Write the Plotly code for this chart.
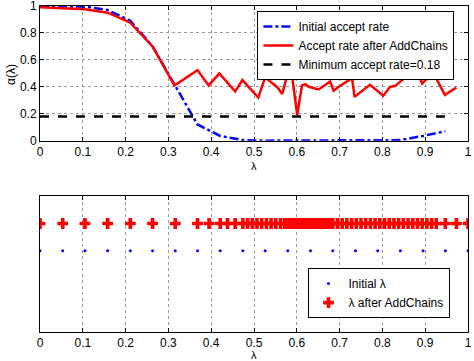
import plotly.graph_objects as go

# ---- data ----
lam_init = [0.0, 0.053, 0.105, 0.158, 0.211, 0.263, 0.316, 0.368, 0.421, 0.474,
            0.526, 0.579, 0.632, 0.684, 0.737, 0.789, 0.842, 0.895, 0.947, 1.0]
acc_init = [1.0, 1.0, 0.995, 0.97, 0.89, 0.70, 0.41, 0.12, 0.035, 0.004,
            0.0, 0.0, 0.0, 0.0, 0.0, 0.0, 0.004, 0.035, 0.07]

lam_red = [0.0, 0.053, 0.105, 0.158, 0.211, 0.263, 0.314, 0.368, 0.394, 0.419,
           0.456, 0.473, 0.488, 0.51, 0.526, 0.543, 0.555, 0.566, 0.579, 0.589,
           0.601, 0.612, 0.62, 0.628, 0.651, 0.678, 0.686, 0.698, 0.729, 0.735,
           0.771, 0.802, 0.818, 0.83, 0.857, 0.88, 0.893, 0.906, 0.923, 0.946, 0.973]
acc_red = [0.99, 0.985, 0.975, 0.95, 0.876, 0.70, 0.41, 0.524, 0.41, 0.50,
           0.365, 0.45, 0.40, 0.32, 0.47, 0.425, 0.395, 0.346, 0.506, 0.48,
           0.19, 0.41, 0.42, 0.40, 0.38, 0.44, 0.37, 0.40, 0.464, 0.326,
           0.415, 0.333, 0.40, 0.407, 0.48, 0.518, 0.424, 0.464, 0.479, 0.34, 0.395]

min_accept = 0.18

lam_after = [0.0, 0.053, 0.105, 0.158, 0.211, 0.263, 0.316, 0.368, 0.395, 0.421,
             0.438, 0.456, 0.474, 0.485, 0.496, 0.507, 0.518, 0.529, 0.540, 0.551,
             0.562, 0.572, 0.580, 0.584, 0.588, 0.591, 0.595, 0.598, 0.602, 0.605,
             0.609, 0.612, 0.616, 0.619, 0.623, 0.626, 0.630, 0.633, 0.637, 0.640,
             0.644, 0.647, 0.651, 0.654, 0.658, 0.661, 0.665, 0.668, 0.672, 0.675,
             0.679, 0.684, 0.695, 0.706, 0.717, 0.728, 0.739, 0.750, 0.761, 0.772,
             0.783, 0.794, 0.805, 0.816, 0.827, 0.838, 0.849, 0.860, 0.871, 0.882,
             0.893, 0.904, 0.915, 0.926, 0.947, 0.973, 1.0]

row_after = 2
row_init = 1

x_ticks = [0, 0.1, 0.2, 0.3, 0.4, 0.5, 0.6, 0.7, 0.8, 0.9, 1]
x_ticktext = ["0", "0.1", "0.2", "0.3", "0.4", "0.5", "0.6", "0.7", "0.8", "0.9", "1"]
y_ticks = [0, 0.2, 0.4, 0.6, 0.8, 1]
y_ticktext = ["0", "0.2", "0.4", "0.6", "0.8", "1"]

FONT = "Liberation Sans, Arial, sans-serif"

W, H = 474, 361
ML, MR, MT, MB = 40, 6, 6, 29
TOP_DOM = [0.587, 1.0]
BOT_DOM = [0.0, 0.416]

fig = go.Figure()

fig.add_trace(go.Scatter(x=lam_init[:-1], y=acc_init, mode="lines",
                         line=dict(color="#0000ff", width=2.5, dash="dashdot"),
                         name="Initial accept rate", xaxis="x", yaxis="y", legend="legend"))
fig.add_trace(go.Scatter(x=lam_red, y=acc_red, mode="lines",
                         line=dict(color="#ff0000", width=2.5),
                         name="Accept rate after AddChains", xaxis="x", yaxis="y", legend="legend"))
fig.add_trace(go.Scatter(x=[lam_init[0], lam_init[-2]], y=[min_accept, min_accept], mode="lines",
                         line=dict(color="black", width=2.5, dash="dash"),
                         name="Minimum accept rate=0.18", xaxis="x", yaxis="y", legend="legend"))

fig.add_trace(go.Scatter(x=lam_init, y=[row_init] * len(lam_init), mode="markers",
                         marker=dict(color="#0000ff", size=3, symbol="circle"),
                         name="Initial λ", xaxis="x2", yaxis="y2", legend="legend2"))
fig.add_trace(go.Scatter(x=lam_after, y=[row_after] * len(lam_after), mode="markers",
                         marker=dict(color="#ff0000", size=9, symbol="cross",
                                     line=dict(width=0)),
                         name="λ after AddChains", xaxis="x2", yaxis="y2", legend="legend2"))

axis_common = dict(showline=True, linecolor="black", linewidth=1, mirror="ticks",
                   ticks="inside", ticklen=4, tickcolor="black",
                   tickfont=dict(size=12, color="black", family=FONT),
                   zeroline=False, automargin=False, ticklabeloverflow="allow")

grid = dict(showgrid=True, gridcolor="#9a9a9a", griddash="dot", gridwidth=1)

fig.update_layout(
    width=W, height=H,
    margin=dict(l=ML, r=MR, t=MT, b=MB),
    paper_bgcolor="white", plot_bgcolor="white",
    font=dict(family=FONT, size=12, color="black"),
    xaxis=dict(domain=[0, 1], range=[0, 1], anchor="y", tickvals=x_ticks, ticktext=x_ticktext,
               **grid, **axis_common),
    yaxis=dict(domain=TOP_DOM, range=[0, 1], anchor="x", tickvals=y_ticks, ticktext=y_ticktext,
               **grid, **axis_common),
    xaxis2=dict(domain=[0, 1], range=[0, 1], anchor="y2", tickvals=x_ticks, ticktext=x_ticktext,
                **grid, **axis_common),
    yaxis2=dict(domain=BOT_DOM, range=[-2, 3], anchor="x2", showline=True, linecolor="black",
                linewidth=1, mirror=True, ticks="", showticklabels=False, showgrid=False,
                zeroline=False, automargin=False),
    legend=dict(x=0.508, y=0.985, xanchor="left", yanchor="top", bgcolor="white",
                bordercolor="black", borderwidth=1, font=dict(size=12, family=FONT),
                tracegroupgap=0, itemwidth=30),
    legend2=dict(x=0.625, y=0.196, xanchor="left", yanchor="top", bgcolor="white",
                 bordercolor="black", borderwidth=1, font=dict(size=12, family=FONT),
                 tracegroupgap=0, itemwidth=30),
    showlegend=True,
)

# axis titles as annotations at the reference positions (pixel -> paper)
plot_h = H - MT - MB
def py_to_paper(py):
    return (H - MB - py) / plot_h

fig.add_annotation(text="λ", x=0.5, xref="paper", y=py_to_paper(166), yref="paper",
                   showarrow=False, font=dict(size=11, family=FONT), yanchor="middle",
                   borderpad=0)
fig.add_annotation(text="λ", x=0.5, xref="paper", y=py_to_paper(355), yref="paper",
                   showarrow=False, font=dict(size=11, family=FONT), yanchor="middle",
                   borderpad=0)
fig.add_annotation(text="α(λ)", x=-(ML - 11) / (W - ML - MR), xref="paper",
                   y=py_to_paper(75), yref="paper", showarrow=False, textangle=-90,
                   font=dict(size=12, family=FONT), xanchor="center", yanchor="middle")

fig.write_html("out.html", config={"displayModeBar": False},
               post_script="document.body.style.margin='0';")
